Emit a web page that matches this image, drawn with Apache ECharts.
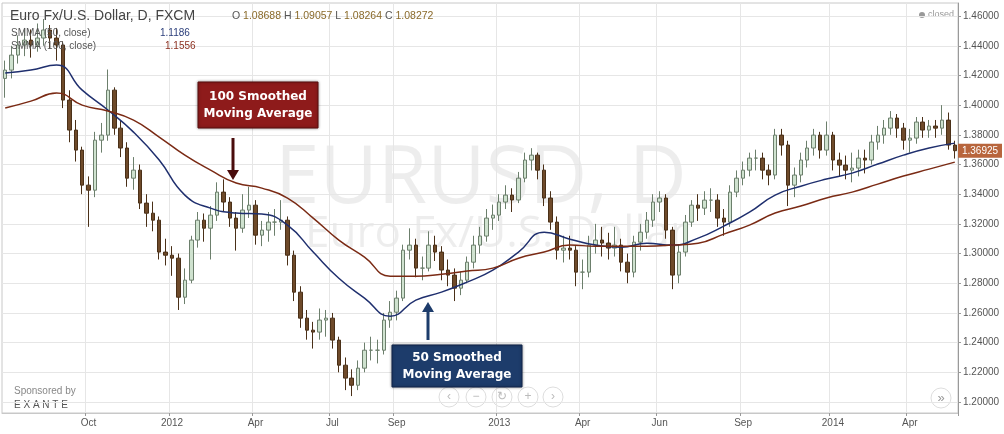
<!DOCTYPE html>
<html><head><meta charset="utf-8">
<script src="https://cdn.jsdelivr.net/npm/echarts@6/dist/echarts.min.js"></script>
<style>html,body{margin:0;padding:0;background:#fff}#c{width:1004px;height:434px}</style>
</head><body><div id="c"></div>
<script>
// Weekly candles, week 0 = 2011-07-04
const firstOpen = 1.418;
const closes = [1.4236,1.4337,1.4405,1.4438,1.4405,1.4452,1.4506,1.4452,1.4405,1.4034,
1.3832,1.3697,1.3461,1.3427,1.3764,1.3798,1.4101,1.3845,1.3711,1.3508,
1.3562,1.334,1.3272,1.3225,1.301,1.2989,1.2969,1.2706,1.2821,1.3091,
1.3225,1.3171,1.3259,1.3414,1.3347,1.3239,1.3171,1.3293,1.3326,1.3124,
1.3158,1.3212,1.3212,1.3225,1.2989,1.274,1.2565,1.2484,1.2471,1.2552,
1.2565,1.2417,1.2248,1.2161,1.2113,1.2228,1.2349,1.2349,1.2349,1.2552,
1.2605,1.27,1.3023,1.3057,1.2902,1.2902,1.3057,1.301,1.2889,1.2855,
1.2767,1.2821,1.2942,1.3057,1.3118,1.3239,1.3259,1.3347,1.3394,1.3361,
1.3508,1.363,1.3663,1.3562,1.3374,1.3212,1.3023,1.3037,1.3023,1.2875,
1.2875,1.3057,1.3091,1.3071,1.3037,1.3057,1.2942,1.2875,1.3077,1.3144,
1.3225,1.3347,1.3374,1.3158,1.2855,1.301,1.3212,1.3326,1.3306,1.336,
1.336,1.3239,1.3212,1.3414,1.3508,1.3562,1.3643,1.3643,1.3562,1.3529,
1.3798,1.3731,1.3461,1.3529,1.363,1.3711,1.3798,1.3697,1.3798,1.363,
1.3596,1.3562,1.3576,1.3643,1.363,1.3751,1.3798,1.3845,1.3913,1.3845,
1.3764,1.3778,1.3886,1.3832,1.3859,1.3845,1.3899,1.3731,1.3693];
const highs = [1.430,1.440,1.447,1.452,1.451,1.455,1.458,1.454,1.452,1.443,
1.410,1.390,1.372,1.352,1.382,1.388,1.424,1.412,1.390,1.375,
1.365,1.360,1.340,1.335,1.325,1.310,1.305,1.300,1.290,1.312,
1.328,1.327,1.332,1.348,1.350,1.338,1.328,1.340,1.345,1.336,
1.322,1.328,1.330,1.336,1.325,1.302,1.278,1.262,1.254,1.263,
1.262,1.260,1.244,1.230,1.222,1.228,1.240,1.244,1.242,1.260,
1.268,1.275,1.306,1.317,1.310,1.298,1.315,1.312,1.305,1.296,
1.290,1.288,1.298,1.312,1.318,1.330,1.333,1.340,1.346,1.344,
1.355,1.368,1.371,1.368,1.360,1.342,1.325,1.312,1.312,1.305,
1.296,1.312,1.320,1.318,1.314,1.318,1.310,1.300,1.312,1.320,
1.328,1.340,1.342,1.340,1.318,1.306,1.326,1.336,1.340,1.342,
1.344,1.340,1.330,1.346,1.356,1.362,1.368,1.370,1.368,1.360,
1.384,1.384,1.376,1.358,1.368,1.376,1.384,1.382,1.389,1.382,
1.368,1.366,1.368,1.370,1.370,1.380,1.386,1.390,1.396,1.394,
1.388,1.384,1.392,1.392,1.390,1.390,1.400,1.395,1.376];
const lows = [1.405,1.418,1.428,1.433,1.432,1.436,1.440,1.438,1.430,1.398,
1.375,1.362,1.340,1.318,1.338,1.368,1.376,1.380,1.365,1.345,
1.343,1.330,1.318,1.315,1.296,1.292,1.285,1.262,1.266,1.280,
1.304,1.308,1.296,1.322,1.328,1.318,1.302,1.314,1.324,1.306,
1.305,1.308,1.312,1.316,1.292,1.268,1.250,1.242,1.236,1.242,
1.244,1.236,1.220,1.208,1.204,1.208,1.220,1.228,1.226,1.232,
1.250,1.255,1.268,1.296,1.284,1.282,1.288,1.295,1.282,1.278,
1.268,1.272,1.280,1.290,1.300,1.308,1.316,1.322,1.330,1.328,
1.334,1.348,1.356,1.350,1.332,1.316,1.296,1.294,1.296,1.278,
1.276,1.284,1.300,1.298,1.296,1.298,1.288,1.280,1.284,1.302,
1.310,1.318,1.328,1.310,1.276,1.280,1.298,1.318,1.322,1.326,
1.328,1.318,1.312,1.318,1.338,1.346,1.352,1.356,1.350,1.346,
1.350,1.366,1.332,1.338,1.348,1.358,1.366,1.364,1.366,1.356,
1.352,1.350,1.348,1.352,1.354,1.360,1.370,1.374,1.380,1.378,
1.370,1.368,1.374,1.378,1.378,1.378,1.380,1.370,1.364];
// SMMA values, sampled every 4 weeks (week 0,4,8,...,148)
const smma50 = [1.4216,1.4236,1.4270,1.4101,1.3967,1.3818,1.3630,1.3394,1.3306,1.3273,
1.3266,1.3192,1.3010,1.2834,1.2700,1.2578,1.2686,1.2740,1.2808,1.2888,
1.3010,1.3144,1.3097,1.3057,1.3043,1.3070,1.3057,1.3104,1.3185,1.3279,
1.3394,1.3454,1.3502,1.3542,1.3603,1.3663,1.3711,1.3744];
const smma100 = [1.3980,1.4027,1.4081,1.4000,1.3960,1.3899,1.3785,1.3663,1.3562,1.3475,
1.3441,1.3374,1.3239,1.3091,1.2976,1.2848,1.2848,1.2861,1.2882,1.2902,
1.2969,1.3010,1.3057,1.3050,1.3050,1.3050,1.3057,1.3070,1.3131,1.3192,
1.3273,1.3320,1.3374,1.3414,1.3468,1.3522,1.3569,1.3616];
const xTicks = {13:'Oct',26:'2012',39:'Apr',51:'Jul',61:'Sep',77:'2013',90:'Apr',102:'Jun',115:'Sep',129:'2014',141:'Apr'};
const yTicks = [1.20,1.22,1.24,1.26,1.28,1.30,1.32,1.34,1.36,1.38,1.40,1.42,1.44,1.46];
const lastPrice = 1.36925;

const start = new Date(Date.UTC(2011,6,4));
const cats = closes.map((c,i)=>{const d=new Date(start.getTime()+i*7*864e5);return d.toISOString().slice(0,10);});
const ohlc = closes.map((c,i)=>[i===0?firstOpen:closes[i-1], c, lows[i], highs[i]]);
const ma = arr => { const o = new Array(closes.length).fill(null); arr.forEach((v,j)=>{o[j*4]=v;}); return o; };

const chart = echarts.init(document.getElementById('c'));
const G = [];
G.push({type:'text',left:275,top:140,z:0,style:{text:'EURUSD, D',font:'80px "Open Sans", sans-serif',fill:'rgba(0,0,0,0.07)'}});
G.push({type:'text',left:305,top:212,z:0,style:{text:'Euro Fx/U.S. Dollar',font:'44px "Open Sans", sans-serif',fill:'rgba(0,0,0,0.07)'}});
G.push({type:'text',left:10,top:9,z:10,style:{text:'Euro Fx/U.S. Dollar, D, FXCM',font:'14px Arial, sans-serif',fill:'#444'}});
G.push({type:'text',left:232,top:11,z:10,style:{rich:{a:{fill:'#555',fontSize:10.5},b:{fill:'#8a6a2a',fontSize:10.5}},text:'{a|O }{b|1.08688}{a| H }{b|1.09057}{a| L }{b|1.08264}{a| C }{b|1.08272}'}});
G.push({type:'text',left:11,top:28,z:10,style:{text:'SMMA (50, close)',font:'10px Arial',fill:'#555'}});
G.push({type:'text',left:160,top:28,z:10,style:{text:'1.1186',font:'10px Arial',fill:'#2a3d7a'}});
G.push({type:'text',left:11,top:41,z:10,style:{text:'SMMA (100, close)',font:'10px Arial',fill:'#555'}});
G.push({type:'text',left:165,top:41,z:10,style:{text:'1.1556',font:'10px Arial',fill:'#8b2e1e'}});
G.push({type:'circle',shape:{cx:922,cy:15,r:3},style:{fill:'#999'}});
G.push({type:'text',left:928,top:10,style:{text:'closed',font:'9px Arial',fill:'#999'}});
G.push({type:'rect',shape:{x:198,y:82,width:120,height:46},style:{fill:'#8e1b1b',stroke:'#5a0e0e',shadowBlur:3,shadowColor:'rgba(0,0,0,0.4)'},z:20});
G.push({type:'text',x:258,y:105,z:21,style:{text:'100 Smoothed\nMoving Average',align:'center',verticalAlign:'middle',font:'bold 12px "DejaVu Sans", sans-serif',fill:'#fff',lineHeight:17}});
G.push({type:'line',shape:{x1:233,y1:138,x2:233,y2:172},style:{stroke:'#4a0c0c',lineWidth:3},z:20});
G.push({type:'polygon',shape:{points:[[227,170],[239,170],[233,180]]},style:{fill:'#4a0c0c'},z:20});
G.push({type:'rect',shape:{x:392,y:345,width:130,height:42},style:{fill:'#1d3c6b',stroke:'#10254a',shadowBlur:3,shadowColor:'rgba(0,0,0,0.4)'},z:20});
G.push({type:'text',x:457,y:366,z:21,style:{text:'50 Smoothed\nMoving Average',align:'center',verticalAlign:'middle',font:'bold 12px "DejaVu Sans", sans-serif',fill:'#fff',lineHeight:17}});
G.push({type:'line',shape:{x1:428,y1:340,x2:428,y2:310},style:{stroke:'#1d3c6b',lineWidth:3},z:20});
G.push({type:'polygon',shape:{points:[[422,312],[434,312],[428,302]]},style:{fill:'#1d3c6b'},z:20});
G.push({type:'text',left:14,top:386,style:{text:'Sponsored by',font:'10px Arial',fill:'#888'}});
G.push({type:'text',left:14,top:400,style:{text:'E X A N T E',font:'10px Arial',fill:'#555'}});
[449,476,502,528,553].forEach((cx,i)=>{G.push({type:'circle',shape:{cx:cx,cy:397,r:10},style:{fill:'#fff',stroke:'#ddd'}});
G.push({type:'text',x:cx,y:397,style:{text:['‹','−','↻','+','›'][i],align:'center',verticalAlign:'middle',font:'12px Arial',fill:'#bbb'}});});
G.push({type:'circle',shape:{cx:941,cy:398,r:10},style:{fill:'#fff',stroke:'#ddd'}});
G.push({type:'text',x:941,y:398,style:{text:'»',align:'center',verticalAlign:'middle',font:'13px Arial',fill:'#999'}});

chart.setOption({
  animation:false,
  graphic:G,
  grid:{left:2,right:46,top:3,bottom:21,show:true,borderColor:'#c8c8c8',backgroundColor:'transparent'},
  xAxis:{type:'category',data:cats,boundaryGap:true,
    axisLine:{lineStyle:{color:'#c8c8c8'}},axisTick:{show:true,interval:(i)=>xTicks[i]!==undefined,lineStyle:{color:'#999'},length:3},
    axisLabel:{interval:(i)=>xTicks[i]!==undefined,formatter:(v,i)=>xTicks[i]||'',color:'#555',fontSize:10,fontFamily:'Arial',margin:5},
    splitLine:{show:true,interval:(i)=>xTicks[i]!==undefined,lineStyle:{color:'#e6e6e6'}}},
  yAxis:{type:'value',position:'right',min:1.1926,max:1.4688,
    axisLine:{show:true,lineStyle:{color:'#999'}},
    axisTick:{show:true,customValues:yTicks,length:3,lineStyle:{color:'#999'}},
    axisLabel:{customValues:yTicks,formatter:v=>v.toFixed(5),color:'#555',fontSize:10,fontFamily:'Arial',margin:5},
    splitLine:{show:true,lineStyle:{color:'#e6e6e6'}}},
  series:[
    {type:'candlestick',data:ohlc,barWidth:4,
      itemStyle:{color:'#cfe2cf',borderColor:'#6c7f6c',color0:'#6e4a2a',borderColor0:'#4a3018',borderWidth:1}},
    {type:'line',data:ma(smma50),connectNulls:true,smooth:true,symbol:'none',lineStyle:{color:'#1f2f6e',width:1.5},z:5},
    {type:'line',data:ma(smma100),connectNulls:true,smooth:true,symbol:'none',lineStyle:{color:'#7a2a14',width:1.5},z:5}
  ]
});
const py = chart.convertToPixel({yAxisIndex:0}, lastPrice);
G.push({type:'rect',z:30,shape:{x:958,y:py-7,width:44,height:14},style:{fill:'#b8653c'}});
G.push({type:'text',z:31,x:980,y:py,style:{text:lastPrice.toFixed(5),align:'center',verticalAlign:'middle',font:'10px Arial',fill:'#fff'}});
chart.setOption({graphic:G});
</script></body></html>
